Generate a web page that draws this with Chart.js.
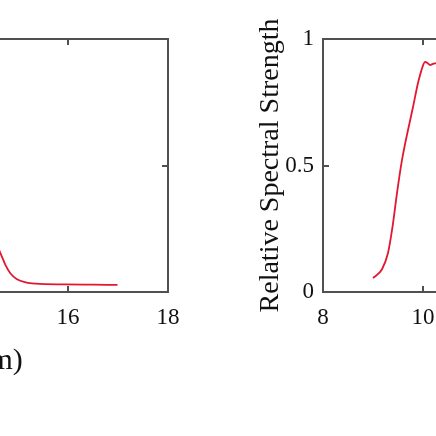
<!DOCTYPE html>
<html lang="en">
<head>
    <meta charset="UTF-8">
    <title>Relative Spectral Strength</title>
    <script src="https://cdn.jsdelivr.net/npm/chart.js"></script>
    <style>
        html, body {
            margin: 0;
            padding: 0;
            background: #ffffff;
            overflow: hidden;
            width: 436px;
            height: 436px;
            position: relative;
        }
        canvas {
            position: absolute;
            top: 0;
        }
        #leftChart { left: -400px; }
        #rightChart { left: 223px; }
    </style>
</head>
<body>
    <canvas id="leftChart" width="600" height="436"></canvas>
    <canvas id="rightChart" width="700" height="436"></canvas>

    <script>
        // x-axis ticks (wavelength, um) and y-axis ticks
        const xTicks = [8, 10, 12, 14, 16, 18];
        const yTicks = [0, 0.5, 1];

        // left panel (only its right part is visible)
        const leftWavelength = [14.55, 14.61, 14.68, 14.75, 14.85, 14.98, 15.15, 15.35, 15.95, 16.5, 16.99];
        const leftStrength   = [0.2, 0.172, 0.139, 0.106, 0.073, 0.050, 0.038, 0.033, 0.030, 0.029, 0.028];

        // right panel (only its left part is visible)
        const rightWavelength = [9.0, 9.18, 9.30, 9.39, 9.48, 9.58, 9.80, 9.90, 9.97, 10.04, 10.09, 10.14, 10.2, 10.26];
        const rightStrength   = [0.055, 0.09, 0.154, 0.257, 0.391, 0.522, 0.731, 0.826, 0.877, 0.909, 0.905, 0.897, 0.902, 0.905];

        const serif = '"Liberation Serif", "Times New Roman", serif';
        const frame = '#505050';

        function toPoints(xs, ys) {
            return xs.map((x, i) => ({ x: x, y: ys[i] }));
        }

        // builds one boxed panel with inside ticks
        function makePanel(id, xs, ys, sizes) {
            const ctx = document.getElementById(id).getContext('2d');
            const hidden = { display: false };
            const boxGrid = {
                drawOnChartArea: false,
                drawTicks: true,
                tickLength: -6,
                color: frame,
                lineWidth: 2
            };
            const boxBorder = { display: true, color: frame, width: 2 };

            return new Chart(ctx, {
                type: 'line',
                data: {
                    datasets: [{
                        data: toPoints(xs, ys),
                        borderColor: '#e3172f',
                        borderWidth: 1.8,
                        pointRadius: 0,
                        cubicInterpolationMode: 'monotone',
                        fill: false
                    }]
                },
                options: {
                    responsive: false,
                    animation: false,
                    layout: { padding: 0 },
                    plugins: { legend: hidden, tooltip: { enabled: false } },
                    scales: {
                        x: {
                            type: 'linear',
                            position: 'bottom',
                            min: xTicks[0],
                            max: xTicks[xTicks.length - 1],
                            afterBuildTicks: s => { s.ticks = xTicks.map(v => ({ value: v })); },
                            grid: boxGrid,
                            border: boxBorder,
                            ticks: {
                                color: '#111',
                                font: { family: serif, size: 23 },
                                padding: 18,
                                maxRotation: 0,
                                callback: v => String(v)
                            },
                            title: {
                                display: true,
                                text: 'Wavelength (μm)',
                                color: '#111',
                                font: { family: serif, size: 30 },
                                padding: { bottom: 57 }
                            },
                            afterFit: s => { s.height = 144; }
                        },
                        x2: {
                            type: 'linear',
                            position: 'top',
                            min: xTicks[0],
                            max: xTicks[xTicks.length - 1],
                            afterBuildTicks: s => { s.ticks = xTicks.map(v => ({ value: v })); },
                            grid: boxGrid,
                            border: boxBorder,
                            ticks: { display: false },
                            afterFit: s => { s.height = 39; }
                        },
                        y: {
                            type: 'linear',
                            position: 'left',
                            min: yTicks[0],
                            max: yTicks[yTicks.length - 1],
                            afterBuildTicks: s => { s.ticks = yTicks.map(v => ({ value: v })); },
                            grid: boxGrid,
                            border: boxBorder,
                            ticks: {
                                color: '#111',
                                font: { family: serif, size: 23 },
                                padding: 15,
                                callback: v => String(v)
                            },
                            title: {
                                display: true,
                                text: 'Relative Spectral Strength',
                                color: '#111',
                                font: { family: serif, size: 28 },
                                padding: { top: sizes.titlePad }
                            },
                            afterFit: s => { s.width = sizes.left; }
                        },
                        y2: {
                            type: 'linear',
                            position: 'right',
                            min: yTicks[0],
                            max: yTicks[yTicks.length - 1],
                            afterBuildTicks: s => { s.ticks = yTicks.map(v => ({ value: v })); },
                            grid: boxGrid,
                            border: boxBorder,
                            ticks: { display: false },
                            afterFit: s => { s.width = sizes.right; }
                        }
                    }
                }
            });
        }

        makePanel('leftChart', leftWavelength, leftStrength, { left: 68, right: 32, titlePad: 0 });
        makePanel('rightChart', rightWavelength, rightStrength, { left: 100, right: 100, titlePad: 31 });
    </script>
</body>
</html>
